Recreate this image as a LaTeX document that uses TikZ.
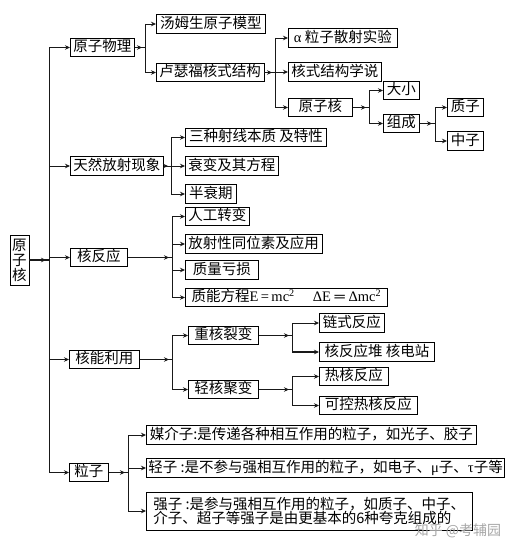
\documentclass[tikz,border=0pt]{standalone}
\usepackage{fontspec}
\setmainfont{Noto Sans CJK SC}
\newfontfamily\serif{Liberation Serif}
\usetikzlibrary{arrows.meta,decorations.markings}
\tikzset{
  box/.style={draw, line width=0.8pt, inner xsep=3pt, inner ysep=2pt,
    text height=11.5pt, text depth=3pt, anchor=west,
    font=\fontsize{14.5}{15}\selectfont},
  rootbox/.style={draw, line width=0.8pt, inner sep=2pt, align=center,
    minimum width=19, minimum height=50,
    font=\fontsize{14.5}{15}\selectfont},
  multibox/.style={draw, line width=0.8pt, inner xsep=7pt, inner ysep=3pt,
    align=left, anchor=west, font=\fontsize{14.5}{14}\selectfont},
  link/.style={draw=black!90, line width=0.8pt},
  heavy/.style={line width=1.7pt},
  carr/.style={-{Stealth[length=5pt,width=4.5pt]}},
  parr/.style={postaction={decorate}, decoration={markings,
    mark=at position -3pt with {\arrow{Stealth[length=5pt,width=4.5pt]}}}},
}
\begin{document}
\begin{tikzpicture}[x=1pt,y=-1pt]
\useasboundingbox (0,0) rectangle (519,553);
% root
\node[rootbox] (root) at (19.5,260) {原\\子\\核};
% level 1
\node[box, minimum width=63] (n1) at (70,47.5) {原子物理};
\node[box, minimum width=88] (n2) at (70,166) {天然放射现象};
\node[box, minimum width=57] (n3) at (70,257.5) {核反应};
\node[box, minimum width=70] (n4) at (69,359.5) {核能利用};
\node[box, minimum width=39] (n5) at (69,472.5) {粒子};
% 原子物理
\node[box, minimum width=109] (n11) at (156,24) {汤姆生原子模型};
\node[box, minimum width=104] (n12) at (156,72.5) {卢瑟福核式结构};
\node[box, minimum width=109] (n121) at (288,38) {{\serif α} 粒子散射实验};
\node[box, minimum width=92] (n122) at (288,72) {核式结构学说};
\node[box, minimum width=64] (n123) at (288,107.5) {原子核};
\node[box, minimum width=36] (n1231) at (383,90.5) {大小};
\node[box, minimum width=36] (n1232) at (383,123.5) {组成};
\node[box, minimum width=36] (n12321) at (447,107.5) {质子};
\node[box, minimum width=36] (n12322) at (447,141) {中子};
% 天然放射现象
\node[box, minimum width=141] (n21) at (185,137.5) {三种射线本质 及特性};
\node[box, minimum width=90] (n22) at (185,166) {衰变及其方程};
\node[box, minimum width=51] (n23) at (185,194) {半衰期};
% 核反应
\node[box, minimum width=63] (n31) at (185,216.5) {人工转变};
\node[box, minimum width=133] (n32) at (185,244) {放射性同位素及应用};
\node[box, minimum width=73] (n33) at (185,270) {质量亏损};
\node[box, minimum width=202, align=left] (n34) at (185,297.5)
  {质能方程{\serif E\,=\,mc\textsuperscript{2}\quad\ ΔE ═ Δmc\textsuperscript{2}}};
% 核能利用
\node[box, minimum width=70] (n41) at (188,335.5) {重核裂变};
\node[box, minimum width=70] (n42) at (188,389.5) {轻核聚变};
\node[box, minimum width=65] (n411) at (319,323) {链式反应};
\node[box, minimum width=115] (n412) at (319,352) {核反应堆\ 核电站};
\node[box, minimum width=69] (n421) at (319,376.5) {热核反应};
\node[box, minimum width=98] (n422) at (319,405.5) {可控热核反应};
% 粒子
\node[box, minimum width=330, align=left] (n51) at (146,435) {媒介子:是传递各种相互作用的粒子，如光子、胶子};
\node[box, minimum width=356, align=left, inner xsep=2pt] (n52) at (146,468)
  {轻子 :是不参与强相互作用的粒子，如电子、{\serif μ}子、{\serif τ}子等};
\node[multibox, minimum width=310, minimum height=38] (n53) at (146,511)
  {强子 :是参与强相互作用的粒子，如质子、中子、\\介子、超子等强子是由更基本的6种夸克组成的};
% watermark
\node[text=black!35, font=\fontsize{14}{14}\selectfont] (wm) at (458,531) {知乎 @考辅园};

% branch points
\coordinate (t) at (49,260);
\coordinate (b1) at (145,47.5);
\coordinate (b12) at (275,72.5);
\coordinate (b123) at (369,107.5);
\coordinate (b1232) at (435,123.5);
\coordinate (b2) at (171,166);
\coordinate (b3) at (172,257.5);
\coordinate (b4) at (172,359.5);
\coordinate (b41) at (292,335.5);
\coordinate (b42) at (292,389.5);
\coordinate (b5) at (128,472.5);

% trunk
\draw[link, heavy, parr] (root.east) -- (t);
\draw[link] (t |- n1.west) -- (t |- n5.west);
\foreach \c in {n1,n2,n3,n4,n5} \draw[link, carr] (t |- \c.west) -- (\c.west);

% 原子物理
\draw[link, parr] (n1.east) -- (b1);
\draw[link] (b1 |- n11.west) -- (b1 |- n12.west);
\foreach \c in {n11,n12} \draw[link, carr] (b1 |- \c.west) -- (\c.west);
\draw[link, parr] (n12.east) -- (b12);
\draw[link] (b12 |- n121.west) -- (b12 |- n123.west);
\foreach \c in {n121,n122,n123} \draw[link, carr] (b12 |- \c.west) -- (\c.west);
\draw[link, parr] (n123.east) -- (b123);
\draw[link] (b123 |- n1231.west) -- (b123 |- n1232.west);
\foreach \c in {n1231,n1232} \draw[link, carr] (b123 |- \c.west) -- (\c.west);
\draw[link, parr] (n1232.east) -- (b1232);
\draw[link] (b1232 |- n12321.west) -- (b1232 |- n12322.west);
\foreach \c in {n12321,n12322} \draw[link, carr] (b1232 |- \c.west) -- (\c.west);

% 天然放射现象
\draw[link, parr] (n2.east) -- (b2);
\draw[link] (b2 |- n21.west) -- (b2 |- n23.west);
\foreach \c in {n21,n22,n23} \draw[link, carr] (b2 |- \c.west) -- (\c.west);

% 核反应
\draw[link, heavy, parr] (n3.east) -- (b3);
\draw[link] (b3 |- n31.west) -- (b3 |- n34.west);
\foreach \c in {n31,n32,n33,n34} \draw[link, carr] (b3 |- \c.west) -- (\c.west);

% 核能利用
\draw[link, parr] (n4.east) -- (b4);
\draw[link] (b4 |- n41.west) -- (b4 |- n42.west);
\foreach \c in {n41,n42} \draw[link, carr] (b4 |- \c.west) -- (\c.west);
\draw[link, heavy, parr] (n41.east) -- (b41);
\draw[link] (b41 |- n411.west) -- (b41 |- n412.west);
\draw[link, carr] (b41 |- n411.west) -- (n411.west);
\draw[link, heavy, carr] (b41 |- n412.west) -- (n412.west);
\draw[link, parr] (n42.east) -- (b42);
\draw[link] (b42 |- n421.west) -- (b42 |- n422.west);
\draw[link, carr] (b42 |- n421.west) -- (n421.west);
\draw[link, heavy, carr] (b42 |- n422.west) -- (n422.west);

% 粒子
\draw[link, parr] (n5.east) -- (b5);
\draw[link] (b5 |- n51.west) -- (b5 |- n53.west);
\foreach \c in {n51,n52,n53} \draw[link, carr] (b5 |- \c.west) -- (\c.west);
\end{tikzpicture}
\end{document}
